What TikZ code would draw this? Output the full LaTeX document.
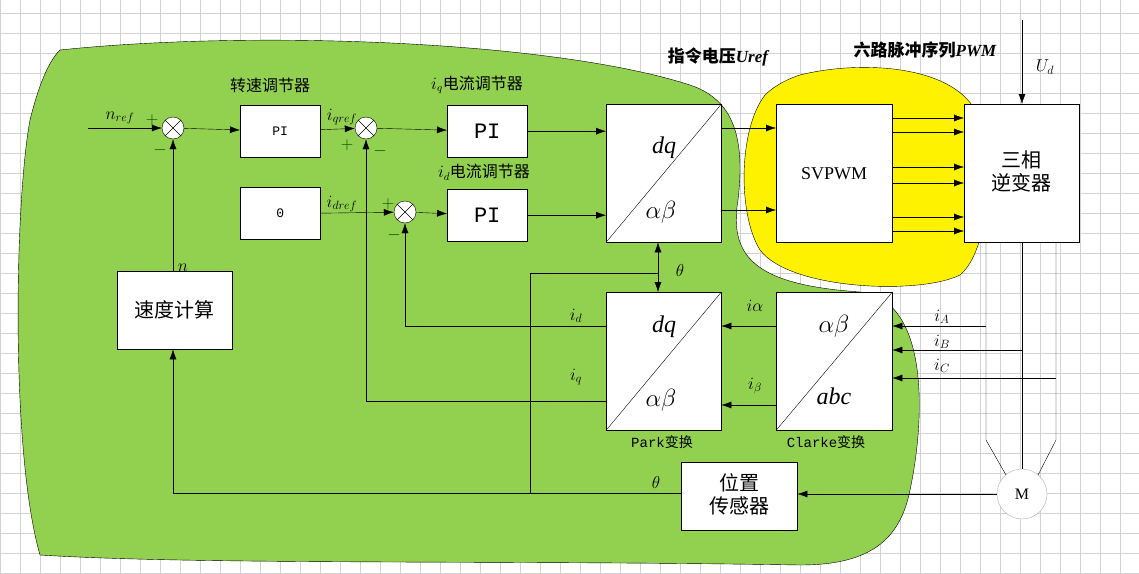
\documentclass[tikz,border=0pt]{standalone}
\usepackage{fontspec}
\setmainfont{Liberation Serif}
\newfontfamily\cjk{Noto Sans CJK SC}
\newfontfamily\mono{Liberation Mono}
\usetikzlibrary{arrows.meta}
\definecolor{gbl}{HTML}{92D050}
\newcommand{\fs}[1]{\fontsize{#1}{#1}\selectfont}
\begin{document}
\begin{tikzpicture}[x=1pt,y=-1pt,
  box/.style={draw,fill=white,inner sep=0,anchor=north west},
  sum/.style={draw,fill=white,circle,minimum size=22pt,inner sep=0},
  ar/.style={-{Latex[length=10pt,width=7pt]}},
  lab/.style={font=\itshape\fs{17}},
  big/.style={font=\itshape\fs{24}},
  cn/.style={font=\cjk\fs{16}}]
\useasboundingbox (0,0) rectangle (1139,573);
\foreach \x in {0,20,...,1139}{\draw[gray!35] (\x,0) -- (\x,573);}
\foreach \y in {13,33,...,573}{\draw[gray!35] (0,\y) -- (1139,\y);}
% blobs
\draw[fill=gbl]
 (60,50) .. controls (250,30) and (550,40) .. (690,85)
 .. controls (735,100) and (745,140) .. (738,200)
 .. controls (728,260) and (760,285) .. (860,292)
 .. controls (930,300) and (925,420) .. (910,490)
 .. controls (900,540) and (870,565) .. (800,565)
 .. controls (500,560) and (200,565) .. (40,555)
 .. controls (10,450) and (15,200) .. (30,120)
 .. controls (40,80) and (50,60) .. (60,50) -- cycle;
\draw[fill=yellow]
 (800,75) .. controls (860,60) and (950,65) .. (975,110)
 .. controls (995,160) and (990,250) .. (960,275)
 .. controls (920,295) and (790,290) .. (760,250)
 .. controls (738,215) and (738,130) .. (765,95)
 .. controls (775,85) and (790,78) .. (800,75) -- cycle;
% nodes
\node[sum] (s1) at (173,128) {};
\node[sum] (s2) at (366,128) {};
\node[sum] (s3) at (405,212) {};
\foreach \s in {s1,s2,s3}{\draw (\s.north west)--(\s.south east) (\s.north east)--(\s.south west);}
\node[box,minimum width=80,minimum height=52,font=\mono\fs{13}] (pi1) at (240,105) {PI};
\node[box,minimum width=80,minimum height=52,font=\mono\fs{13}] (zero) at (240,187) {0};
\node[box,minimum width=80,minimum height=52,font=\mono\fs{22}] (piq) at (447,105) {PI};
\node[box,minimum width=80,minimum height=52,font=\mono\fs{22}] (pid) at (447,189) {PI};
\node[box,minimum width=115,minimum height=138] (ip) at (606,104) {};
\node[box,minimum width=116,minimum height=138,font=\fs{18}] (sv) at (776,104) {SVPWM};
\node[box,minimum width=115,minimum height=138,font=\cjk\fs{20}] (inv) at (964,104) {\begin{tabular}{c}三相\\逆变器\end{tabular}};
\node[box,minimum width=115,minimum height=138] (park) at (606,292) {};
\node[box,minimum width=116,minimum height=138] (clk) at (776,292) {};
\node[box,minimum width=116,minimum height=68,font=\cjk\fs{20}] (pos) at (681,462) {\begin{tabular}{c}位置\\传感器\end{tabular}};
\node[box,minimum width=115,minimum height=78,font=\cjk\fs{20}] (spd) at (117,271) {速度计算};
\node[draw=gray!60,fill=white,circle,minimum size=50pt,inner sep=0,font=\fs{16}] (m) at (1022,494) {M};
\foreach \b in {ip,park,clk}{\draw (\b.south west)--(\b.north east);}
\node[big] at (664,148) {dq};
\node[big] at (661,212) {$\alpha\beta$};
\node[big] at (664,327) {dq};
\node[big] at (661,400) {$\alpha\beta$};
\node[big] at (834,326) {$\alpha\beta$};
\node[big] at (834,396) {abc};
% labels
\node[cn] at (270,85) {转速调节器};
\node[cn] at (477,85) {$i_q$电流调节器};
\node[cn] at (484,172) {$i_d$电流调节器};
\node[font=\cjk\fs{17}\bfseries] at (718,57) {指令电压{\rmfamily\bfseries\itshape Uref}};
\node[font=\cjk\fs{17}\bfseries] at (925,50) {六路脉冲序列{\rmfamily\bfseries\itshape PWM}};
\node[font=\mono\fs{14}] at (662,442) {Park{\cjk 变换}};
\node[font=\mono\fs{14}] at (826,442) {Clarke{\cjk 变换}};
\node[lab] at (120,118) {$n_{ref}$};
\node[lab] at (342,117) {$i_{qref}$};
\node[lab] at (342,204) {$i_{dref}$};
\node[lab] at (183,268) {$n$};
\node[lab] at (680,270) {$\theta$};
\node[lab] at (656,482) {$\theta$};
\node[lab] at (1045,67) {$U_d$};
\node[lab] at (576,316) {$i_d$};
\node[lab] at (576,377) {$i_q$};
\node[lab] at (755,306) {$i\alpha$};
\node[lab] at (755,386) {$i_\beta$};
\node[lab] at (942,317) {$i_A$};
\node[lab] at (942,342) {$i_B$};
\node[lab] at (942,366) {$i_C$};
\foreach \p/\t in {{(152,120)}/+,{(160,150)}/-,{(347,145)}/+,{(380,151)}/-,{(388,204)}/+,{(394,235)}/-}
  \node[green!30!black,font=\fs{18}] at \p {$\t$};
% connectors
\coordinate (nin) at (88,128);
\draw[ar] (nin) -- (s1);
\draw[ar] (s1) -- (pi1);
\draw[ar] (pi1) -- (s2);
\draw[ar] (s2) -- (piq);
\draw[ar] (zero.east) -- (s3);
\draw[ar] (s3) -- (pid);
\draw[ar] (piq.east) -- (ip.west |- piq.east);
\draw[ar] (pid.east) -- (ip.west |- pid.east);
\draw[ar] (ip.east |- 0,128) -- (sv.west |- 0,128);
\draw[ar] (ip.east |- 0,210) -- (sv.west |- 0,210);
\foreach \y in {118,132,167,183,217,231}{\draw[ar] (sv.east |- 0,\y) -- (inv.west |- 0,\y);}
\coordinate (ud) at (1022,20);
\draw[ar] (ud) -- (inv.north -| ud);
\draw[ar] (spd.north -| s1) -- (s1);
\draw[ar] (park.west |- 0,326) -| (s3);
\draw[ar] (park.west |- 0,401) -| (s2);
\draw[ar] (clk.west |- 0,326) -- (park.east |- 0,326);
\draw[ar] (clk.west |- 0,405) -- (park.east |- 0,405);
\draw[{Latex[length=10pt,width=7pt]}-{Latex[length=10pt,width=7pt]}] (ip.south -| 658,0) -- (park.north -| 658,0);
\draw (658,273) -- (530,273) -- (530,493);
\draw[ar] (pos.west |- 0,493) -| (spd.south -| s1);
\draw[ar] (m) -- (pos.east |- m);
% inverter to motor
\draw (986,242) -- (986,440) -- (m.130);
\draw (1022,242) -- (m.north);
\draw (1056,242) -- (1056,440) -- (m.50);
\draw[ar] (986,326) -- (clk.east |- 0,326);
\draw[ar] (1022,350) -- (clk.east |- 0,350);
\draw[ar] (1056,378) -- (clk.east |- 0,378);
\end{tikzpicture}
\end{document}
